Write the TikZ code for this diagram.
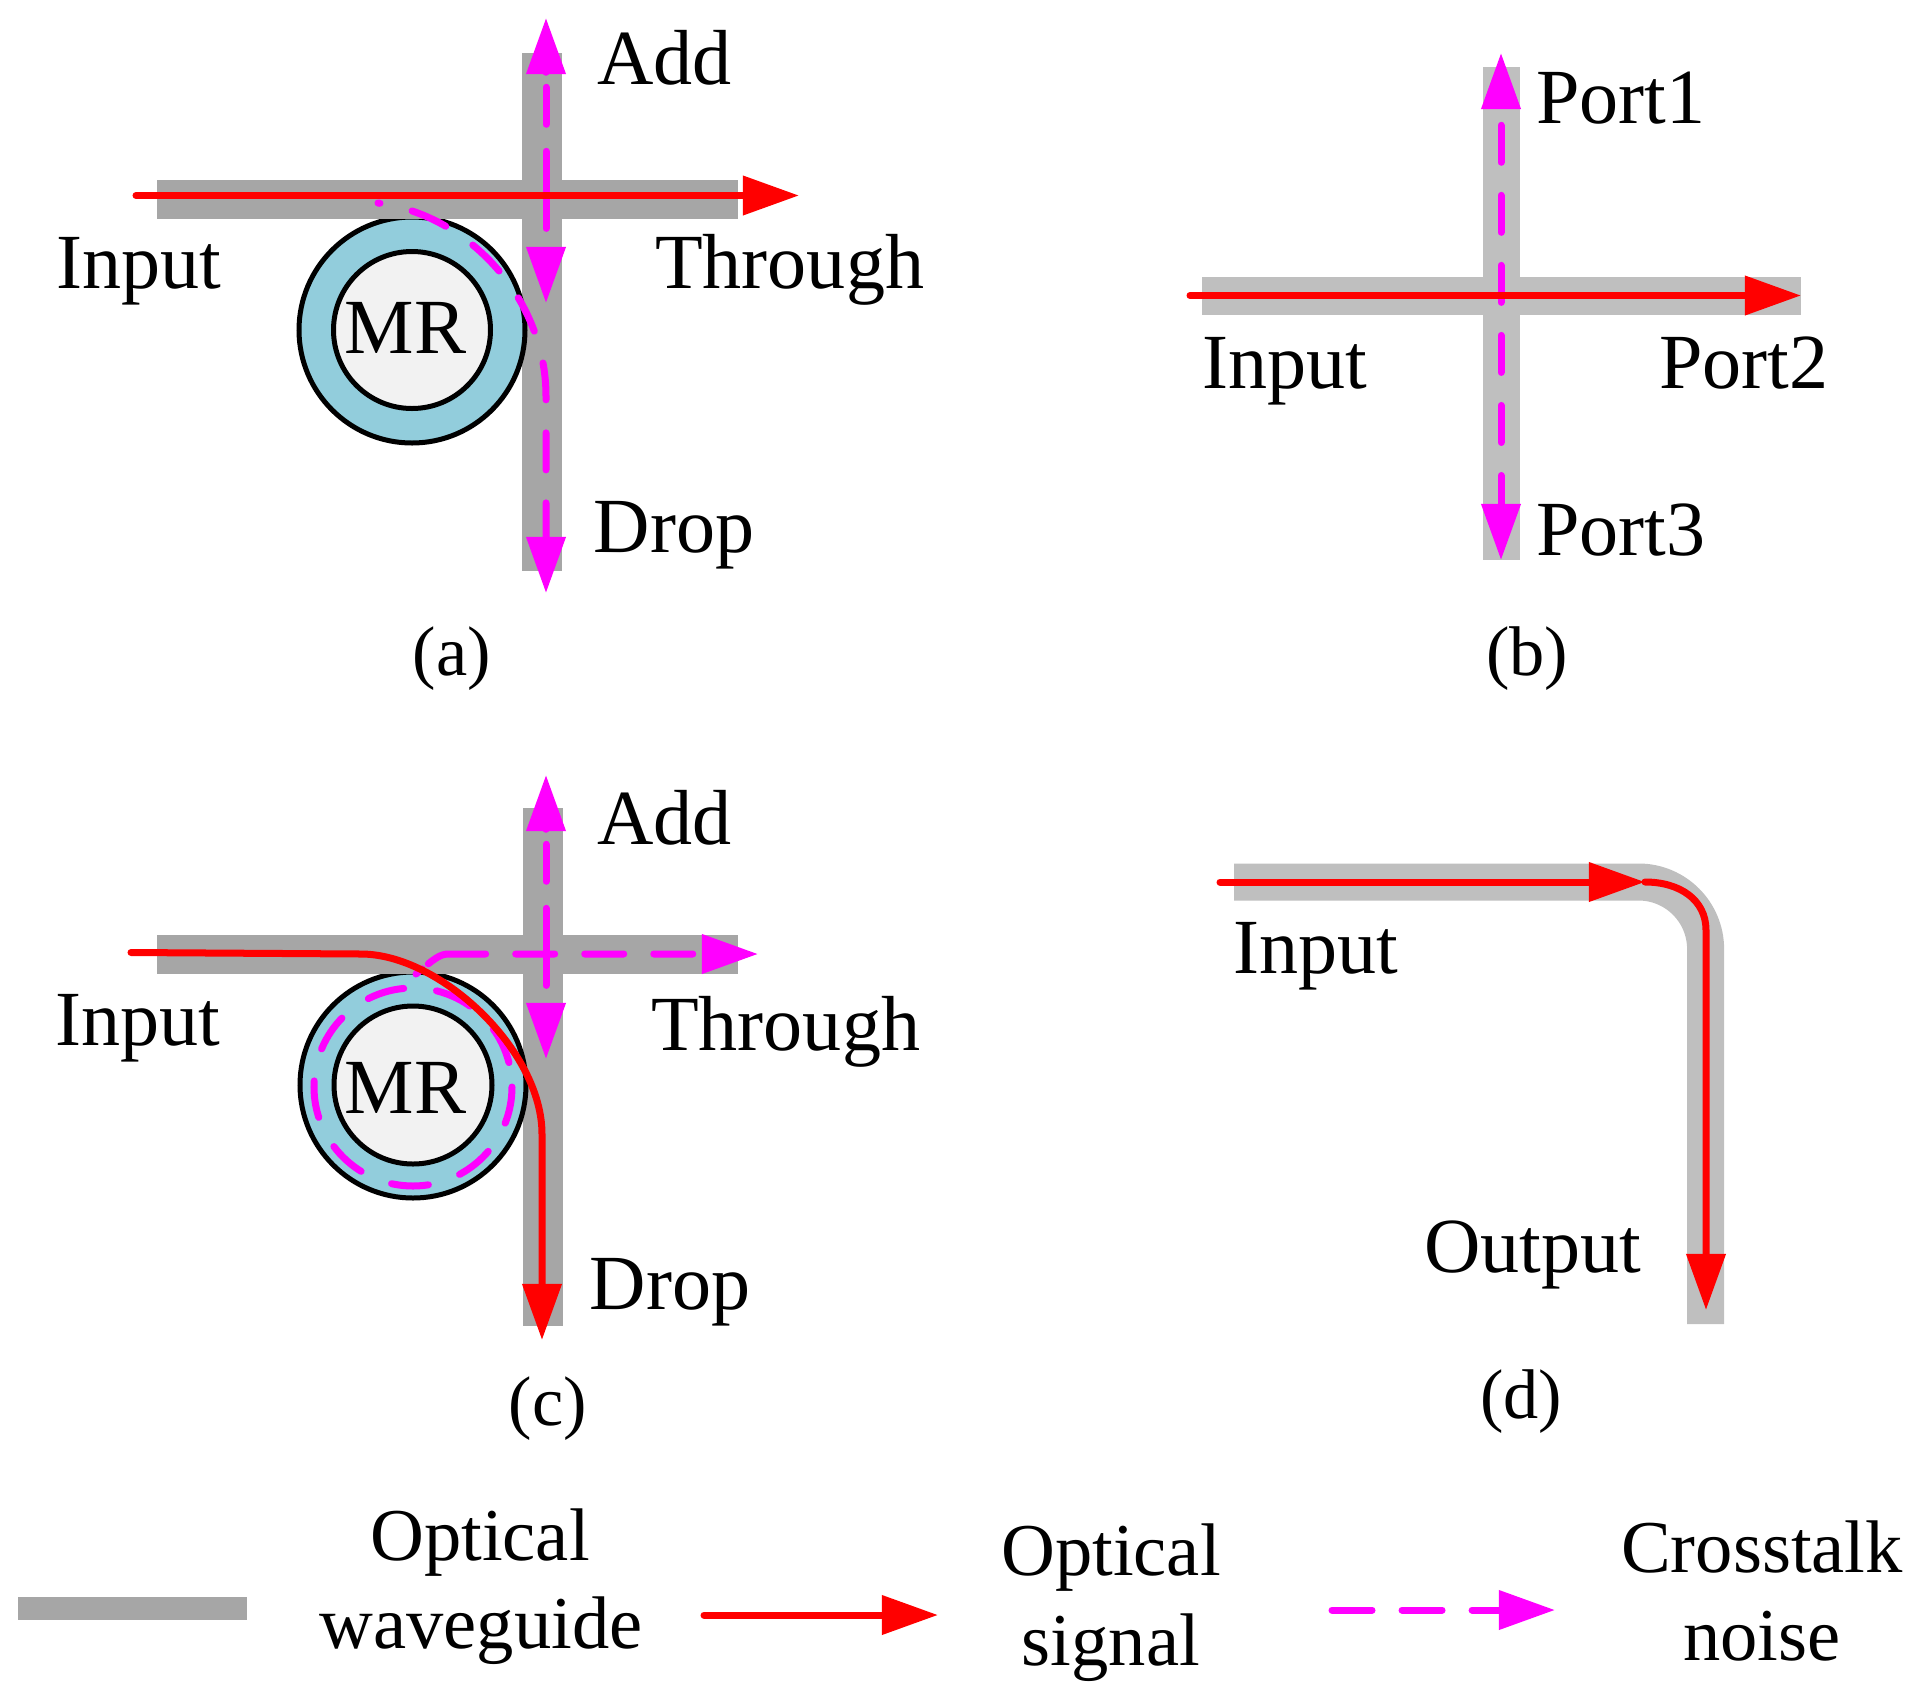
\documentclass[tikz,border=0pt]{standalone}
\usepackage{fontspec}
\setmainfont{Liberation Serif}
\usetikzlibrary{arrows.meta}

\definecolor{guidedark}{HTML}{A6A6A6}
\definecolor{guidelight}{HTML}{BFBFBF}
\definecolor{ringblue}{HTML}{92CDDC}
\definecolor{ringcore}{HTML}{F2F2F2}
\definecolor{noisepink}{HTML}{FF00FF}
\definecolor{signalred}{HTML}{FF0000}

\tikzset{
  guide/.style={guidedark, line width=.39cm},
  guidepale/.style={guidelight, line width=.37cm},
  ring/.style={draw=black, line width=.05cm, fill=ringblue},
  core/.style={draw=black, line width=.05cm, fill=ringcore},
  bigtip/.tip={Triangle[length=.56cm, width=.38cm]},
  signal/.style={signalred, line width=.07cm, line cap=round, -{bigtip}},
  noise/.style={noisepink, line width=.07cm, line cap=round, dash pattern=on .37cm off .33cm},
  lab/.style={inner sep=0pt, anchor=base west, font=\fontsize{22.2}{26}\selectfont},
  subcap/.style={inner sep=0pt, anchor=base, font=\fontsize{20}{24}\selectfont},
  keylab/.style={inner sep=0pt, anchor=base, font=\fontsize{21.2}{25}\selectfont},
}

\begin{document}
\begin{tikzpicture}[x=.01cm, y=-.01cm]
  \useasboundingbox (0,0) rectangle (1914,1693);

  % (a) 微环未谐振
  \coordinate (aW) at (157,199.5);
  \coordinate (aE) at (738,199.5);
  \coordinate (aN) at (542,53);
  \coordinate (aS) at (542,571);
  \coordinate (aMR) at (412,330);
  \coordinate (aIn) at (136,195.5);
  \coordinate (aOut) at (799,195.5);
  \coordinate (aAdd) at (546,18);
  \coordinate (aMid) at (546,303);
  \coordinate (aBend) at (378,203);
  \coordinate (aKnee) at (546,396);
  \coordinate (aDrop) at (546,593);

  \draw[guide] (aN) -- (aS);
  \draw[ring] (aMR) circle (113);
  \draw[core] (aMR) circle (78.5);
  \draw[guide] (aW) -- (aE);
  \draw[noise, dash pattern=on 0cm off .15cm on .37cm off .27cm on .77cm off 1cm, {bigtip}-{bigtip}] (aAdd) -- (aMid);
  \draw[noise, dash phase=.35cm, -{bigtip}] (aBend) .. controls (470,215) and (546,300) .. (aKnee) -- (aDrop);
  \draw[signal] (aIn) -- (aOut);

  \node[lab] (addA) at (596.5,84) {Add};
  \node[lab] (inA) at (55.5,288) {Input};
  \node[lab] (thA) at (654.5,288) {Through};
  \node[lab, anchor=base] (mrA) at (405.5,353) {MR};
  \node[lab] (dropA) at (593,552) {Drop};
  \node[subcap] (capA) at (452,675) {(a)};

  % (b) 交叉波导
  \coordinate (bW) at (1202,296);
  \coordinate (bE) at (1801,296);
  \coordinate (bN) at (1501,67);
  \coordinate (bS) at (1501,560);
  \coordinate (bIn) at (1190,295.5);
  \coordinate (bOut) at (1801,295.5);
  \coordinate (bTop) at (1501,53);

  \draw[guidepale] (bW) -- (bE);
  \draw[guidepale] (bN) -- (bS);
  \draw[noise, dash phase=.52cm, {bigtip}-{bigtip}] (bTop) -- (bS);
  \draw[signal] (bIn) -- (bOut);

  \node[lab] (portA) at (1535.5,123) {Port1};
  \node[lab] (inB) at (1201.5,388) {Input};
  \node[lab] (portB) at (1658.5,388) {Port2};
  \node[lab] (portC) at (1535.5,555) {Port3};
  \node[subcap] (capB) at (1527,675) {(b)};

  % (c) 微环谐振
  \coordinate (cW) at (157,954.5);
  \coordinate (cE) at (738,954.5);
  \coordinate (cN) at (543,808);
  \coordinate (cS) at (543,1326);
  \coordinate (cMR) at (413,1085);
  \coordinate (cLoop) at (413,1087);
  \coordinate (cIn) at (131,952.5);
  \coordinate (cBend) at (361,954);
  \coordinate (cKnee) at (542,1134);
  \coordinate (cDrop) at (542,1340);
  \coordinate (cAdd) at (546,775);
  \coordinate (cMid) at (546,1059);
  \coordinate (cTap) at (416,974);
  \coordinate (cCorner) at (449,954);
  \coordinate (cThru) at (758,954);

  \draw[guide] (cN) -- (cS);
  \draw[ring] (cMR) circle (113);
  \draw[core] (cMR) circle (79);
  \draw[guide] (cW) -- (cE);
  \draw[noise] (cLoop) circle (99);
  \draw[noise, dash pattern=on 0cm off .15cm on .37cm off .27cm on .77cm off 1cm, {bigtip}-{bigtip}] (cAdd) -- (cMid);
  \draw[noise, dash pattern=on .08cm off .08cm on .60cm off .30cm on .39cm off .30cm on .39cm off .30cm on .39cm off 1cm, -{bigtip}] (cTap) .. controls (435,958) and (440,954) .. (cCorner) -- (cThru);
  \draw[signal] (cIn) -- (cBend) .. controls (440,954) and (542,1050) .. (cKnee) -- (cDrop);

  \node[lab] (addC) at (596.5,844) {Add};
  \node[lab] (inC) at (55,1045) {Input};
  \node[lab] (thC) at (650.5,1050) {Through};
  \node[lab, anchor=base] (mrC) at (405.5,1113) {MR};
  \node[lab] (dropC) at (589,1309) {Drop};
  \node[subcap] (capC) at (548,1425) {(c)};

  % (d) 弯曲波导
  \coordinate (dW) at (1234,882);
  \coordinate (dS) at (1705.6,1324);
  \coordinate (dIn) at (1220,882);
  \coordinate (dMid) at (1645,882);
  \coordinate (dKnee) at (1706,930);
  \coordinate (dOut) at (1706,1310);

  \draw[guidepale, rounded corners=.67cm] (dW) -| (dS);
  \draw[signal] (dIn) -- (dMid);
  \draw[signal] (dMid) .. controls (1680,882) and (1706,900) .. (dKnee) -- (dOut);

  \node[lab] (inD) at (1233,973) {Input};
  \node[lab] (outD) at (1423.5,1272) {Output};
  \node[subcap] (capD) at (1521,1418) {(d)};

  % 图例
  \coordinate (kGuideA) at (18,1608.5);
  \coordinate (kGuideB) at (247,1608.5);
  \coordinate (kSigA) at (704,1615);
  \coordinate (kSigB) at (938,1615);
  \coordinate (kNoiseA) at (1332,1610);
  \coordinate (kNoiseB) at (1555,1610);

  \draw[guide, line width=.23cm] (kGuideA) -- (kGuideB);
  \draw[signal] (kSigA) -- (kSigB);
  \draw[noise, dash pattern=on .40cm off .30cm, -{bigtip}] (kNoiseA) -- (kNoiseB);

  \node[keylab] (keyA) at (480,1560) {Optical};
  \node[keylab] (keyB) at (481,1648) {waveguide};
  \node[keylab] (keyC) at (1111,1575) {Optical};
  \node[keylab] (keyD) at (1111,1665) {signal};
  \node[keylab] (keyE) at (1762,1572) {Crosstalk};
  \node[keylab] (keyF) at (1762,1660) {noise};
\end{tikzpicture}
\end{document}
